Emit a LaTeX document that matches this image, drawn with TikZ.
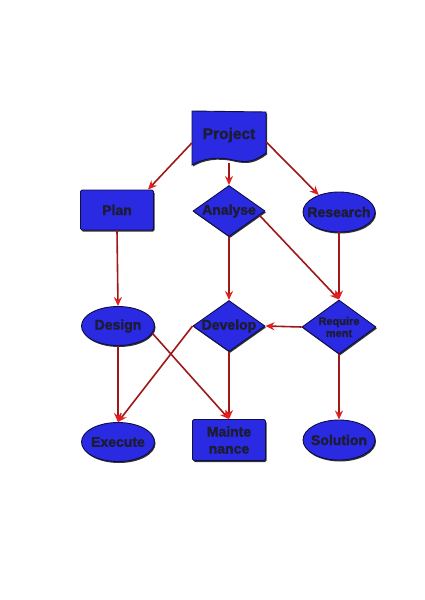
\documentclass[tikz,border=0pt]{standalone}
\usepackage{fontspec}
\setmainfont{Liberation Sans}
\newfontfamily\heavyfont[FakeBold=1.8]{Liberation Sans}
\usetikzlibrary{shapes.geometric,arrows.meta,shadows}
\definecolor{boxblue}{RGB}{42,42,226}
\definecolor{edgeblue}{RGB}{15,15,70}
\definecolor{txt}{RGB}{28,28,52}
\definecolor{linered}{RGB}{158,24,24}
\definecolor{tipred}{RGB}{228,30,30}
\newcommand{\zw}[1]{\makebox[0pt]{#1}}
\begin{document}
\begin{tikzpicture}[x=1pt,y=-1pt,
  shadowed/.style={drop shadow={shadow xshift=1pt,shadow yshift=-1.5pt,fill=black!80,opacity=1}},
  base/.style={fill=boxblue, draw=edgeblue, line width=0.9pt, text=txt,
    font=\heavyfont\bfseries\fontsize{14}{17}\selectfont, inner sep=0pt, align=center, shadowed},
  boxnode/.style={base, rectangle, rounded corners=1.5pt, minimum width=73pt, minimum height=40pt},
  dia/.style={base, diamond, aspect=1.44, minimum width=72pt, minimum height=51pt},
  ell/.style={base, ellipse, minimum width=73pt, minimum height=39pt},
  plain/.style={text=txt, font=\heavyfont\bfseries\fontsize{15.5}{17}\selectfont, inner sep=0pt,
    minimum width=74pt, minimum height=50pt},
  link/.style={draw=linered, line width=1.6pt, -{Stealth[length=9pt,width=8pt,color=tipred]}}]
\useasboundingbox (0,0) rectangle (424,600);

% Project (document shape)
\draw[fill=boxblue, draw=edgeblue, line width=0.9pt, shadowed]
  (192,111) -- (266,112) -- (266,153)
  .. controls (254,162) and (246,163) .. (233,160)
  .. controls (216,156) and (202,159) .. (192,165) -- cycle;
\node[plain] (proj) at (229,135) {Project};

\node[boxnode] (plan) at (117,210) {\zw{Plan}};
\node[dia] (analyse) at (229,211) {\zw{Analyse}};
\node[ell, minimum height=40pt, minimum width=72pt] (research) at (339,212) {\zw{Research}};

\node[ell] (design) at (118,326) {\zw{Design}};
\node[dia] (develop) at (229,326) {\zw{Develop}};
\node[dia, minimum width=74pt, minimum height=54pt, font=\heavyfont\bfseries\fontsize{11}{12}\selectfont] (req) at (339,327) {\zw{Require}\\\zw{ment}};

\node[ell] (execute) at (118,442) {\zw{Execute}};
\node[boxnode, minimum height=41pt] (maint) at (229,440) {\zw{Mainte}\\\zw{nance}};
\node[ell, minimum height=40pt, minimum width=72pt] (solution) at (339,440) {\zw{Solution}};

\draw[link] ([yshift=-8pt]proj.west) -- ([xshift=31pt]plan.north);
\draw[link] ([yshift=-3pt]proj.south) -- (analyse.north);
\draw[link] ([yshift=-7pt]proj.east) -- (research.140);
\draw[link] (plan.south) -- (design.north);
\draw[link] (analyse.south) -- (develop.north);
\draw[link] (analyse.-8) -- (req.north);
\draw[link] (research.south) -- (req.north);
\draw[link] (req.west) -- (develop.east);
\draw[link] (design.south) -- (execute.north);
\draw[link] (design.-12) -- (maint.north);
\draw[link] (develop.west) -- (execute.north);
\draw[link] (develop.south) -- (maint.north);
\draw[link] (req.south) -- (solution.north);
\end{tikzpicture}
\end{document}
